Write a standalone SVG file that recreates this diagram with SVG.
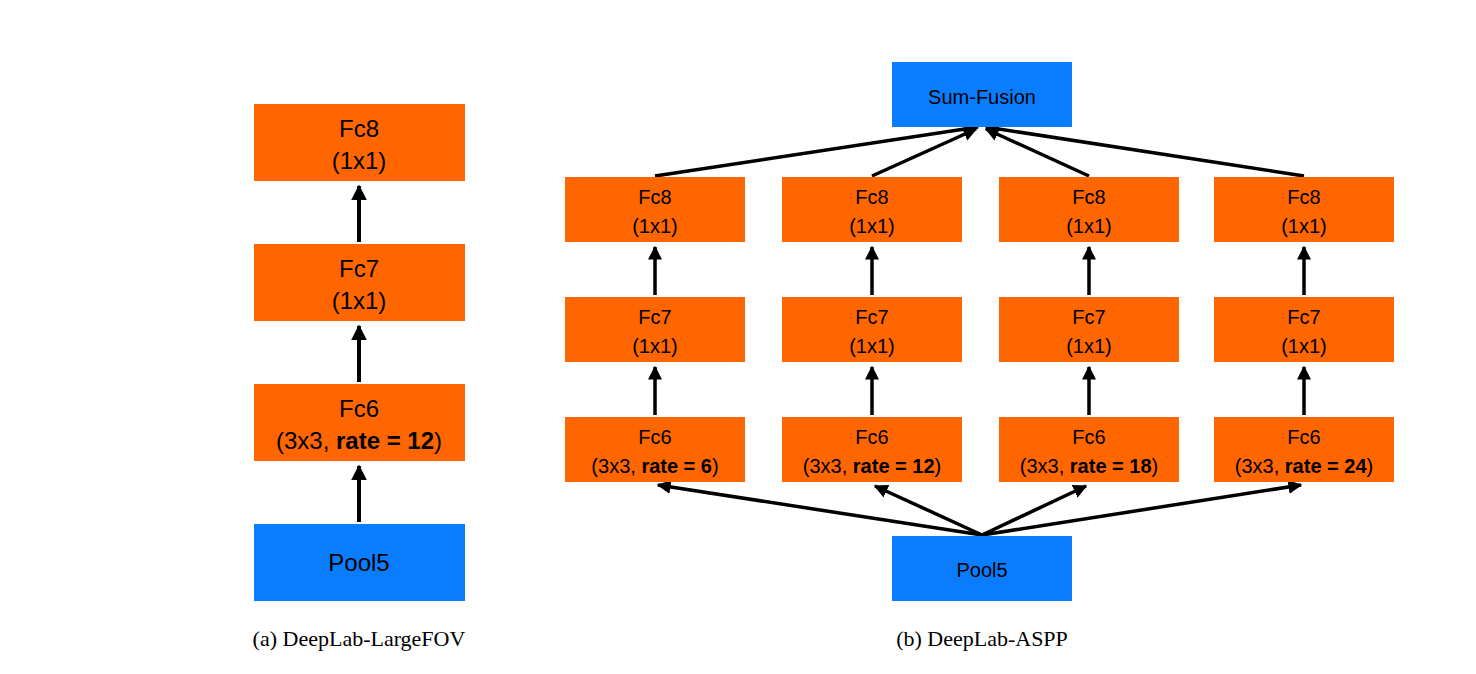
<svg xmlns="http://www.w3.org/2000/svg" width="1476" height="674" viewBox="0 0 1476 674">
<defs>
<marker id="ah" viewBox="0 0 10 10" refX="9" refY="5" markerWidth="4" markerHeight="4" orient="auto" markerUnits="strokeWidth"><path d="M0,0 L10,5 L0,10 z" fill="#000"/></marker>
<style>
.o{fill:#FF6600}.b{fill:#0A7DFF}
.t{font-family:"Liberation Sans",Arial,sans-serif;fill:#000;text-anchor:middle}
.L{font-size:24px}.R{font-size:20px}
.cap{font-family:"Liberation Serif","Times New Roman",serif;font-size:22px;text-anchor:middle;fill:#000}
.a{stroke:#000;fill:none;marker-end:url(#ah)}
</style>
</defs>
<rect width="1476" height="674" fill="#fff"/>
<g id="connectors">
<line class="a" x1="359" y1="522" x2="359" y2="466" stroke-width="4"/>
<line class="a" x1="359" y1="382" x2="359" y2="326" stroke-width="4"/>
<line class="a" x1="359" y1="242" x2="359" y2="186" stroke-width="4"/>
<g stroke-width="3.5">
<line class="a" x1="655" y1="295" x2="655" y2="247"/>
<line class="a" x1="655" y1="415" x2="655" y2="367"/>
<line class="a" x1="872" y1="295" x2="872" y2="247"/>
<line class="a" x1="872" y1="415" x2="872" y2="367"/>
<line class="a" x1="1089" y1="295" x2="1089" y2="247"/>
<line class="a" x1="1089" y1="415" x2="1089" y2="367"/>
<line class="a" x1="1304" y1="295" x2="1304" y2="247"/>
<line class="a" x1="1304" y1="415" x2="1304" y2="367"/>
<line class="a" x1="982" y1="535" x2="658" y2="485"/>
<line class="a" x1="982" y1="535" x2="875" y2="486"/>
<line class="a" x1="982" y1="535" x2="1086" y2="486"/>
<line class="a" x1="982" y1="535" x2="1301" y2="485"/>
<line class="a" x1="655" y1="176" x2="978" y2="127"/>
<line class="a" x1="872" y1="176" x2="976" y2="129"/>
<line class="a" x1="1089" y1="176" x2="986" y2="129"/>
<line class="a" x1="1304" y1="176" x2="986" y2="127"/>
</g>
</g>
<g id="a-fc8"><rect class="o" x="254" y="104" width="211" height="77"/><text class="t L" x="359" y="137">Fc8</text><text class="t L" x="359" y="169">(1x1)</text></g>
<g id="a-fc7"><rect class="o" x="254" y="244" width="211" height="77"/><text class="t L" x="359" y="277">Fc7</text><text class="t L" x="359" y="309">(1x1)</text></g>
<g id="a-fc6"><rect class="o" x="254" y="384" width="211" height="77"/><text class="t L" x="359" y="417">Fc6</text><text class="t L" x="359" y="449">(3x3, <tspan font-weight="bold">rate = 12</tspan>)</text></g>
<g id="a-pool5"><rect class="b" x="254" y="524" width="211" height="77"/><text class="t L" x="359" y="571">Pool5</text></g>
<text class="cap" x="359" y="646">(a) DeepLab-LargeFOV</text>
<g id="sum"><rect class="b" x="892" y="62" width="180" height="65"/><text class="t R" x="982" y="104">Sum-Fusion</text></g>
<g id="b-pool5"><rect class="b" x="892" y="536" width="180" height="65"/><text class="t R" x="982" y="577">Pool5</text></g>
<g id="c1-fc8"><rect class="o" x="565" y="177" width="180" height="65"/><text class="t R" x="655" y="204">Fc8</text><text class="t R" x="655" y="233">(1x1)</text></g>
<g id="c1-fc7"><rect class="o" x="565" y="297" width="180" height="65"/><text class="t R" x="655" y="324">Fc7</text><text class="t R" x="655" y="353">(1x1)</text></g>
<g id="c1-fc6"><rect class="o" x="565" y="417" width="180" height="65"/><text class="t R" x="655" y="444">Fc6</text><text class="t R" x="655" y="473">(3x3, <tspan font-weight="bold">rate = 6</tspan>)</text></g>
<g id="c2-fc8"><rect class="o" x="782" y="177" width="180" height="65"/><text class="t R" x="872" y="204">Fc8</text><text class="t R" x="872" y="233">(1x1)</text></g>
<g id="c2-fc7"><rect class="o" x="782" y="297" width="180" height="65"/><text class="t R" x="872" y="324">Fc7</text><text class="t R" x="872" y="353">(1x1)</text></g>
<g id="c2-fc6"><rect class="o" x="782" y="417" width="180" height="65"/><text class="t R" x="872" y="444">Fc6</text><text class="t R" x="872" y="473">(3x3, <tspan font-weight="bold">rate = 12</tspan>)</text></g>
<g id="c3-fc8"><rect class="o" x="999" y="177" width="180" height="65"/><text class="t R" x="1089" y="204">Fc8</text><text class="t R" x="1089" y="233">(1x1)</text></g>
<g id="c3-fc7"><rect class="o" x="999" y="297" width="180" height="65"/><text class="t R" x="1089" y="324">Fc7</text><text class="t R" x="1089" y="353">(1x1)</text></g>
<g id="c3-fc6"><rect class="o" x="999" y="417" width="180" height="65"/><text class="t R" x="1089" y="444">Fc6</text><text class="t R" x="1089" y="473">(3x3, <tspan font-weight="bold">rate = 18</tspan>)</text></g>
<g id="c4-fc8"><rect class="o" x="1214" y="177" width="180" height="65"/><text class="t R" x="1304" y="204">Fc8</text><text class="t R" x="1304" y="233">(1x1)</text></g>
<g id="c4-fc7"><rect class="o" x="1214" y="297" width="180" height="65"/><text class="t R" x="1304" y="324">Fc7</text><text class="t R" x="1304" y="353">(1x1)</text></g>
<g id="c4-fc6"><rect class="o" x="1214" y="417" width="180" height="65"/><text class="t R" x="1304" y="444">Fc6</text><text class="t R" x="1304" y="473">(3x3, <tspan font-weight="bold">rate = 24</tspan>)</text></g>
<text class="cap" x="982" y="646">(b) DeepLab-ASPP</text>
</svg>
